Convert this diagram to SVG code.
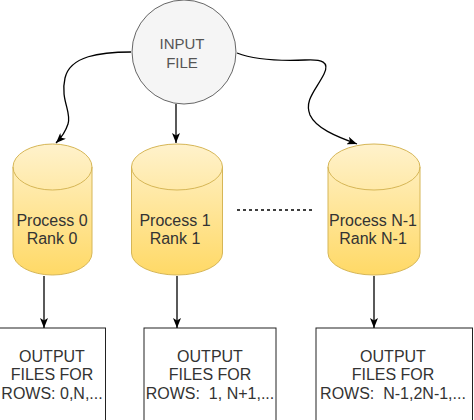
<svg xmlns="http://www.w3.org/2000/svg" width="474" height="420" viewBox="0 0 474 420">
<style>
.txt{font-family:"Liberation Sans",Arial,sans-serif;font-size:16px;fill:#333;text-anchor:middle}
.ctxt{font-family:"Liberation Sans",Arial,sans-serif;font-size:15px;fill:#555;text-anchor:middle}
.cyl{fill:url(#yg);stroke:#d6b656;stroke-width:1}
.cyltop{fill:none;stroke:#d6b656;stroke-width:1}
.box{fill:#fff;stroke:#222;stroke-width:1}
.edge{fill:none;stroke:#000;stroke-width:1.3;marker-end:url(#arr)}
</style>
<defs>
<linearGradient id="yg" x1="0" y1="0" x2="0" y2="1">
<stop offset="0" stop-color="#fff2cc"/>
<stop offset="1" stop-color="#ffd966"/>
</linearGradient>
<marker id="arr" viewBox="0 0 10 8" refX="10" refY="4" markerWidth="10" markerHeight="8" markerUnits="userSpaceOnUse" orient="auto">
<path d="M0,0 L10,4 L0,8 L2.5,4 Z" fill="#000"/>
</marker>
</defs>
<g id="input-file">
<circle cx="184" cy="52" r="52" fill="#f5f5f5" stroke="#666" stroke-width="1"/>
<text class="ctxt" x="182" y="49">INPUT</text>
<text class="ctxt" x="182" y="68">FILE</text>
</g>
<g id="process-0">
<path class="cyl" d="M13,167 A39.5,23 0 0 1 92,167 V253 A39.5,22 0 0 1 13,253 Z"/>
<path class="cyltop" d="M13,167 A39.5,23 0 0 0 92,167"/>
<text class="txt" x="52" y="226">Process 0</text>
<text class="txt" x="52" y="244">Rank 0</text>
</g>
<g id="process-1">
<path class="cyl" d="M131.5,167 A45.5,23 0 0 1 222.5,167 V253 A45.5,22 0 0 1 131.5,253 Z"/>
<path class="cyltop" d="M131.5,167 A45.5,23 0 0 0 222.5,167"/>
<text class="txt" x="175" y="226">Process 1</text>
<text class="txt" x="175" y="244">Rank 1</text>
</g>
<g id="process-n1">
<path class="cyl" d="M328,167 A46,23 0 0 1 420,167 V253 A46,22 0 0 1 328,253 Z"/>
<path class="cyltop" d="M328,167 A46,23 0 0 0 420,167"/>
<text class="txt" x="373" y="226">Process N-1</text>
<text class="txt" x="373" y="244">Rank N-1</text>
</g>
<g id="output-0">
<rect class="box" x="-2" y="328" width="107.5" height="100"/>
<text class="txt" x="52" y="362">OUTPUT</text>
<text class="txt" x="52" y="380">FILES FOR</text>
<text class="txt" x="52" y="399" xml:space="preserve">ROWS: 0,N,...</text>
</g>
<g id="output-1">
<rect class="box" x="144" y="328" width="132" height="100"/>
<text class="txt" x="210" y="362">OUTPUT</text>
<text class="txt" x="210" y="380">FILES FOR</text>
<text class="txt" x="210" y="399" xml:space="preserve">ROWS:  1, N+1,...</text>
</g>
<g id="output-n1">
<rect class="box" x="316" y="328" width="156.5" height="100"/>
<text class="txt" x="393" y="362">OUTPUT</text>
<text class="txt" x="393" y="380">FILES FOR</text>
<text class="txt" x="393" y="399" xml:space="preserve">ROWS:  N-1,2N-1,...</text>
</g>
<g id="connectors">
<path class="edge" d="M131,52 C100,52 70,56 65,78 C60,100 72,112 68,124 C65,133 61,138 56,143"/>
<path class="edge" d="M176,104 L176,143"/>
<path class="edge" d="M237,53 C255,60 280,61 305,60 C322,59 330,62 324,74 C316,90 304,100 310,115 C316,128 335,136 357,144"/>
<path class="edge" d="M44,276 L44,328"/>
<path class="edge" d="M177,276 L177,328"/>
<path class="edge" d="M374,276 L374,328"/>
<line x1="237" y1="210" x2="312" y2="210" stroke="#000" stroke-width="1.3" stroke-dasharray="3,3"/>
</g>
</svg>
